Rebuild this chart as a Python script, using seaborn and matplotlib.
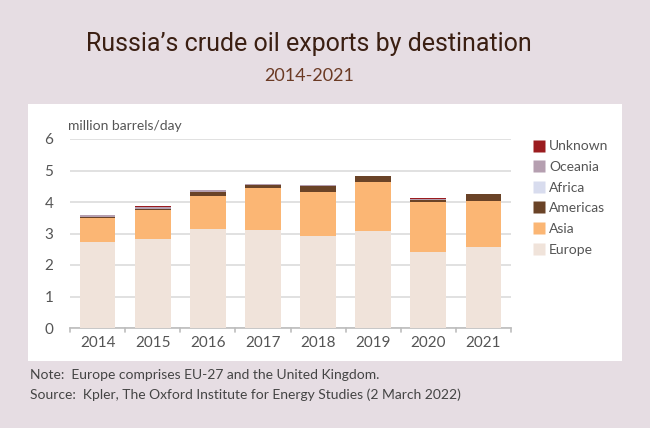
import pandas as pd
import matplotlib.pyplot as plt
import seaborn as sns
from matplotlib.patches import Rectangle
from matplotlib.lines import Line2D

years = ['2014', '2015', '2016', '2017', '2018', '2019', '2020', '2021']
europe = [2.72, 2.82, 3.13, 3.11, 2.92, 3.07, 2.40, 2.58]
asia = [0.78, 0.92, 1.05, 1.33, 1.40, 1.57, 1.60, 1.44]
americas = [0.02, 0.04, 0.15, 0.10, 0.20, 0.20, 0.05, 0.22]
africa = [0.0, 0.0, 0.0, 0.0, 0.0, 0.0, 0.0, 0.0]
oceania = [0.08, 0.05, 0.04, 0.03, 0.01, 0.0, 0.03, 0.0]
unknown = [0.0, 0.04, 0.01, 0.0, 0.0, 0.0, 0.04, 0.0]

series = ['Europe', 'Asia', 'Americas', 'Africa', 'Oceania', 'Unknown']
colors = {'Europe': '#f0e3da', 'Asia': '#fbb674', 'Americas': '#6a4327',
          'Africa': '#d8dcee', 'Oceania': '#b59fb0', 'Unknown': '#9b1c1f'}

df = pd.DataFrame({'Year': years, 'Europe': europe, 'Asia': asia, 'Americas': americas,
                   'Africa': africa, 'Oceania': oceania, 'Unknown': unknown})
cum = df[series].cumsum(axis=1)
cum['Year'] = df['Year']

sns.set_style('white')
plt.rcParams['font.family'] = ['Lato', 'DejaVu Sans']

fig = plt.figure(figsize=(6.5, 4.28), dpi=100, facecolor='#e6dde3')
fig.patches.append(Rectangle((28 / 650, 1 - 361 / 428), 594 / 650, 257 / 428,
                             transform=fig.transFigure, facecolor='white',
                             edgecolor='none', zorder=-5))

ax = fig.add_axes([70 / 650, 1 - 328 / 428, 441 / 650, 189 / 428])
ax.set_facecolor('none')
ax.set_zorder(2)

# draw top-down so lower layers cover upper cumulative bars
for s in reversed(series):
    sns.barplot(data=cum, x='Year', y=s, color=colors[s], width=0.65,
                saturation=1, linewidth=0, ax=ax, zorder=3)

ax.set_ylim(0, 6)
ax.set_xlim(-0.5, 7.5)
ax.set_yticks(range(7))
ax.yaxis.grid(True, color='#d9d9d9', linewidth=1.1, zorder=0)
ax.set_axisbelow(True)
for sp in ['top', 'right', 'left']:
    ax.spines[sp].set_visible(False)
ax.spines['bottom'].set_color('#bdbdbd')
ax.spines['bottom'].set_linewidth(1.2)
ax.set_xlabel('')
ax.set_ylabel('')
ax.tick_params(axis='y', length=0, labelsize=11, labelcolor='#555555', pad=12)
ax.tick_params(axis='x', length=0, labelsize=11, labelcolor='#555555', pad=6)
for b in [i + 0.5 for i in range(-1, 8)]:
    ax.plot([b, b], [0, -0.12], color='#bdbdbd', lw=1.2, clip_on=False)

fig.text(68 / 650, 1 - 126 / 428, 'million barrels/day', fontsize=10,
         color='#555555', va='center')

fig.text(309 / 650, 1 - 44 / 428, 'Russia\u2019s crude oil exports by destination',
         fontsize=18, color='#3b1f12', ha='center', va='center',
         family=['Roboto', 'DejaVu Sans'])
fig.text(309 / 650, 1 - 76 / 428, '2014-2021', fontsize=13, color='#6b3a24',
         ha='center', va='center')

handles = [Line2D([0], [0], marker='s', linestyle='', markersize=8,
                  markerfacecolor=colors[s], markeredgecolor='none')
           for s in reversed(series)]
fig.legend(handles, list(reversed(series)), loc='upper left',
           bbox_to_anchor=(520 / 650, 1 - 128 / 428), frameon=False,
           fontsize=10, labelcolor='#555555', handletextpad=0.2,
           labelspacing=0.62, handlelength=1.0)

fig.text(30 / 650, 1 - 375 / 428, 'Note:  Europe comprises EU-27 and the United Kingdom.',
         fontsize=10, color='#444444', va='center')
fig.text(30 / 650, 1 - 395 / 428,
         'Source:  Kpler, The Oxford Institute for Energy Studies (2 March 2022)',
         fontsize=10, color='#444444', va='center')

fig.savefig('out.png', dpi=100, facecolor=fig.get_facecolor())
